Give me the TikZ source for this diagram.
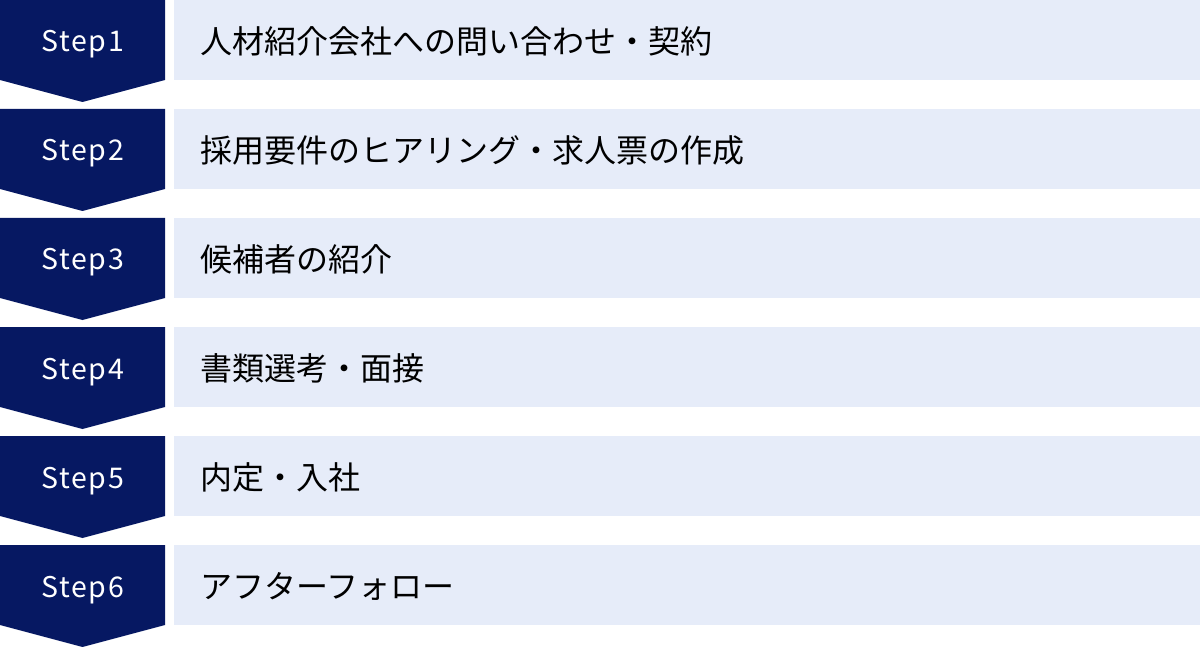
\documentclass[tikz,border=0pt]{standalone}
\usepackage{fontspec}
\setmainfont{Noto Sans CJK JP}
\newfontfamily\stepfont[LetterSpace=6]{Noto Sans CJK JP}
\definecolor{navy}{RGB}{6,24,98}
\definecolor{lightbg}{RGB}{230,236,249}
\tikzset{
  chevron/.style={fill=navy},
  bar/.style={fill=lightbg},
  steplabel/.style={text=white,font=\stepfont\fontsize{28.5}{33}\selectfont,anchor=base,inner sep=0pt},
  desc/.style={text=black,font=\fontsize{32}{38}\selectfont,anchor=west,inner sep=0pt},
}
\begin{document}
\begin{tikzpicture}[x=1pt,y=-1pt]
\useasboundingbox (0,0) rectangle (1200,647);
\foreach \i/\t in {1/人材紹介会社への問い合わせ・契約,2/採用要件のヒアリング・求人票の作成,3/候補者の紹介,4/書類選考・面接,5/内定・入社,6/アフターフォロー}{
  \pgfmathsetmacro\yy{(\i-1)*109}
  \path[chevron] (0,\yy) -- (165,\yy) -- (165,\yy+80) -- (82.5,\yy+102) -- (0,\yy+80) -- cycle;
  \path[bar] (174,\yy) rectangle (1200,\yy+80);
  \node[steplabel] (step\i) at (82.5,\yy+52) {Step\i};
  \node[desc] (label\i) at (200,\yy+41) {\t};
}
\end{tikzpicture}
\end{document}
